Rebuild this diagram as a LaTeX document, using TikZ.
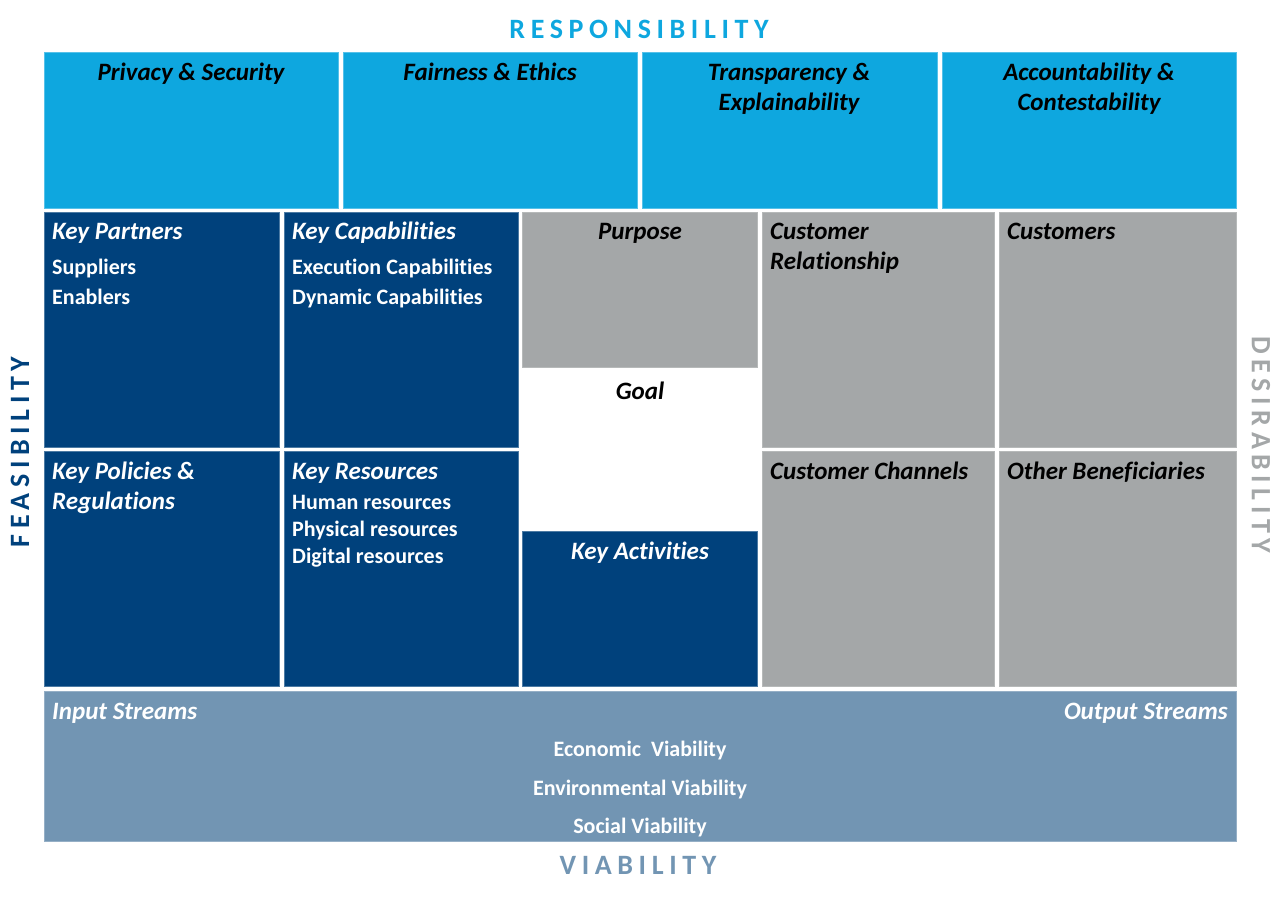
\documentclass[tikz,border=0pt]{standalone}
\usepackage{fontspec}
\setmainfont[Ligatures=CommonOff]{Carlito}
\newfontfamily\spacedfont[LetterSpace=20]{Carlito}
\definecolor{topblue}{HTML}{0EA7DF}
\definecolor{darkblue}{HTML}{00417C}
\definecolor{midgray}{HTML}{A4A7A8}
\definecolor{steel}{HTML}{7295B3}
\begin{document}
\begin{tikzpicture}[x=1pt,y=-1pt,
  box/.style={rectangle, anchor=north west, inner sep=0pt, line width=0.8pt},
  tb/.style={box, fill=topblue, draw=topblue!70!white},
  db/.style={box, fill=darkblue, draw=darkblue!70!white},
  gb/.style={box, fill=midgray, draw=midgray!80!white},
  sb/.style={box, fill=steel, draw=steel!75!white},
  head/.style={font=\fontsize{25}{30}\selectfont\bfseries\itshape, inner sep=0pt, align=center},
  lhead/.style={font=\fontsize{25}{30}\selectfont\bfseries\itshape, inner sep=0pt, align=left, anchor=base west},
  item/.style={font=\fontsize{22}{27}\selectfont\bfseries, inner sep=0pt, align=left, anchor=base west, text=white},
  titl/.style={font=\fontsize{28}{30}\selectfont\bfseries\spacedfont, inner sep=0pt}
]
\useasboundingbox (0,0) rectangle (1280,902);
% top row
\node[tb, minimum width=294pt, minimum height=156pt] (ps) at (44,52) {};
\node[tb, minimum width=294pt, minimum height=156pt] (fe) at (343,52) {};
\node[tb, minimum width=295pt, minimum height=156pt] (te) at (642,52) {};
\node[tb, minimum width=294pt, minimum height=156pt] (ac) at (942,52) {};
% middle
\node[db, minimum width=235pt, minimum height=235pt] (kp) at (44,212) {};
\node[db, minimum width=234pt, minimum height=235pt] (kc) at (284,212) {};
\node[gb, minimum width=235pt, minimum height=155pt] (pu) at (522,212) {};
\node[gb, minimum width=232pt, minimum height=235pt] (cr) at (762,212) {};
\node[gb, minimum width=237pt, minimum height=235pt] (cu) at (999,212) {};
\node[db, minimum width=235pt, minimum height=235pt] (kpr) at (44,451) {};
\node[db, minimum width=234pt, minimum height=235pt] (kr) at (284,451) {};
\node[db, minimum width=235pt, minimum height=155pt] (ka) at (522,531) {};
\node[gb, minimum width=232pt, minimum height=235pt] (cc) at (762,451) {};
\node[gb, minimum width=237pt, minimum height=235pt] (ob) at (999,451) {};
% bottom
\node[sb, minimum width=1192pt, minimum height=150pt] (vb) at (44,691) {};

% top texts
\node[head, anchor=base] (tps) at (191,80) {Privacy \& Security};
\node[head, anchor=base] (tfe) at (490,80) {Fairness \& Ethics};
\node[head, anchor=base] (tte) at (789,110) {Transparency \&\\Explainability};
\node[head, anchor=base] (tac) at (1089,110) {Accountability \&\\Contestability};

% middle texts
\node[lhead, text=white] (tkp) at (52,239) {Key Partners};
\node[item] (tkp1) at (52,274) {Suppliers};
\node[item] (tkp2) at (52,304) {Enablers};
\node[lhead, text=white] (tkc) at (292,239) {Key Capabilities};
\node[item] (tkc1) at (292,274) {Execution Capabilities};
\node[item] (tkc2) at (292,304) {Dynamic Capabilities};
\node[head, anchor=base] (tpu) at (640,239) {Purpose};
\node[head, anchor=base] (tgo) at (640,399) {Goal};
\node[lhead] (tcr) at (770,269) {Customer\\Relationship};
\node[lhead] (tcu) at (1007,239) {Customers};
\node[lhead, text=white] (tkpr) at (52,509) {Key Policies \&\\Regulations};
\node[lhead, text=white] (tkr) at (292,479) {Key Resources};
\node[item] (tkr1) at (292,509) {Human resources};
\node[item] (tkr2) at (292,536) {Physical resources};
\node[item] (tkr3) at (292,563) {Digital resources};
\node[head, anchor=base, text=white] (tka) at (640,559) {Key Activities};
\node[lhead] (tcc) at (770,479) {Customer Channels};
\node[lhead] (tob) at (1007,479) {Other Beneficiaries};

% bottom texts
\node[lhead, text=white] (tis) at (52,719) {Input Streams};
\node[lhead, text=white, anchor=base east] (tos) at (1228,719) {Output Streams};
\node[item, anchor=base] (tv1) at (640,756) {Economic\ \ Viability};
\node[item, anchor=base] (tv2) at (640,795) {Environmental Viability};
\node[item, anchor=base] (tv3) at (640,833) {Social Viability};

% side titles
\node[titl, text=topblue] (resp) at (639,29) {RESPONSIBILITY};
\node[titl, text=steel] (via) at (638,865) {VIABILITY};
\node[titl, text=darkblue, rotate=90] (fea) at (20,452) {FEASIBILITY};
\node[titl, text=midgray, rotate=-90] (des) at (1261,445) {DESIRABILITY};
\end{tikzpicture}
\end{document}
